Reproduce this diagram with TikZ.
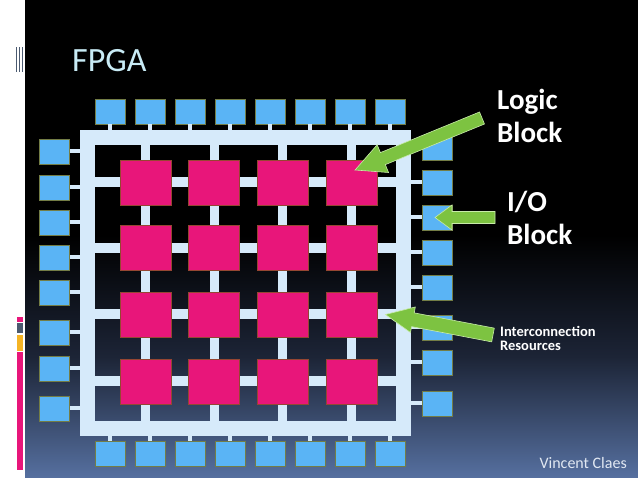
\documentclass[tikz,border=0pt]{standalone}
\usepackage{fontspec}
\setmainfont{Carlito}
\usetikzlibrary{calc}

\definecolor{iocol}{RGB}{90,180,245}
\definecolor{ioedge}{RGB}{115,125,70}
\definecolor{logiccol}{RGB}{232,22,122}
\definecolor{logicedge}{RGB}{150,70,50}
\definecolor{wirecol}{RGB}{214,234,250}
\definecolor{arrowcol}{RGB}{125,195,65}
\definecolor{arrowedge}{RGB}{200,235,170}
\definecolor{titlecol}{RGB}{200,235,245}
\definecolor{creditcol}{RGB}{225,232,242}
\definecolor{bgbottom}{RGB}{86,112,160}
\definecolor{bgmid}{RGB}{28,36,54}
\definecolor{stripgray}{RGB}{75,90,112}
\definecolor{stripyellow}{RGB}{245,180,36}

% fat arrow: tail, tip, shaft half width, head half width, head length
\newcommand{\fatarrow}[5]{%
  \coordinate (fa-base) at ($(#2)!#5!(#1)$);
  \filldraw[draw=arrowedge, fill=arrowcol, line width=0.6pt, line join=miter]
    ($(#1)!#3!90:(#2)$) -- ($(fa-base)!#3!90:(#2)$) -- ($(fa-base)!#4!90:(#2)$)
    -- (#2) -- ($(fa-base)!#4!-90:(#2)$) -- ($(fa-base)!#3!-90:(#2)$)
    -- ($(#1)!#3!-90:(#2)$) -- cycle;
}

\begin{document}
\begin{tikzpicture}[
  x=1pt, y=-1pt,
  iobox/.style={draw=ioedge, line width=0.6pt, fill=iocol, minimum width=30pt,
                minimum height=25pt, inner sep=0pt},
  logicbox/.style={draw=logicedge, line width=0.6pt, fill=logiccol, minimum width=51pt,
                   minimum height=45pt, inner sep=0pt},
  ringbox/.style={draw=wirecol, line width=15pt, minimum width=316pt,
                  minimum height=291pt, inner sep=0pt},
  wire/.style={draw=wirecol},
  stub/.style={draw=wirecol, line width=4pt},
  bigtext/.style={text=white, align=left, inner sep=0pt,
                  font=\fontsize{29}{33}\selectfont\bfseries},
  smalltext/.style={text=white, align=left, inner sep=0pt,
                    font=\fontsize{14.5}{14}\selectfont\bfseries},
]

% background and side strip
\fill[white] (0,0) rectangle (638,478);
\fill[black] (25,0) rectangle (638,236);
\shade[top color=black, bottom color=bgbottom, middle color=bgmid] (25,235) rectangle (638,478);
\useasboundingbox (0,0) rectangle (638,478);
\foreach \x in {15.8,18.8,21.8}
  \fill[stripgray] (\x,47) rectangle ++(1.6,25);
\fill[logiccol] (17,317) rectangle (23,322);
\fill[stripgray] (17,323) rectangle (23,333);
\fill[stripyellow] (17,335) rectangle (23,351);
\fill[logiccol] (17,352) rectangle (23,470);

\node[text=titlecol, anchor=base west, inner sep=0pt,
      font=\fontsize{34}{40}\selectfont] (title) at (72,72) {FPGA};

% interconnect
\node[ringbox] (ring) at (245.5,283) {};
\foreach \x in {145.5,214.2,282.9,351.6}
  \draw[wire, line width=9pt] (\x,137.5) -- (\x,428.5);
\foreach \y in {182.5,248,314.5,381.5}
  \draw[wire, line width=10pt] (87.5,\y) -- (403.5,\y);

% logic blocks
\foreach \x [count=\i] in {145.5,214.2,282.9,351.6}
  \foreach \y [count=\j] in {182.5,248,314.5,381.5}
    \node[logicbox] (lb\i\j) at (\x,\y) {};

% I/O blocks
\foreach \i in {1,...,8} {
  \node[iobox] (iot\i) at (70+40*\i,111.5) {};
  \node[iobox] (iob\i) at (70+40*\i,453.5) {};
  \draw[stub] (iot\i.south) -- (iot\i.south |- ring.north);
  \draw[stub] (iob\i.north) -- (iob\i.north |- ring.south);
}
\foreach \y [count=\i] in {151.5,187.5,222.5,257.5,292.5,332.5,368.5,408.5} {
  \node[iobox] (iol\i) at (54.5,\y) {};
  \draw[stub] (iol\i.east) -- (iol\i.east -| ring.west);
}
\foreach \y [count=\i] in {147.5,182.5,217.5,252.5,287.5,327.5,362.5,403.5} {
  \node[iobox] (ior\i) at (437,\y) {};
  \draw[stub] (ior\i.west) -- (ior\i.west -| ring.east);
}

% labels and pointers
\node[bigtext, anchor=north west] (lbtext) at (497,89) {Logic\\Block};
\node[bigtext, anchor=north west] (iotext) at (507,191) {I/O\\Block};
\node[smalltext, anchor=north west] (ictext) at (500,326) {Interconnection\\Resources};
\node[text=creditcol, anchor=base east, inner sep=0pt,
      font=\fontsize{16}{19}\selectfont] (credit) at (627,469) {Vincent Claes};

\coordinate (lbtail) at (482,118);
\coordinate (lbtip) at ($(lb41.center)+(3.5,-12.5)$);
\coordinate (iotail) at (495,217.5);
\coordinate (iotip) at ($(ior3.center)+(-2,0)$);
\coordinate (ictail) at (493,335);
\coordinate (ictip) at ($(lb43.east)+(8,0)$);
\fatarrow{lbtail}{lbtip}{6.5pt}{15pt}{30pt}
\fatarrow{iotail}{iotip}{6pt}{12.5pt}{17pt}
\fatarrow{ictail}{ictip}{7pt}{13pt}{28pt}

\end{tikzpicture}
\end{document}
